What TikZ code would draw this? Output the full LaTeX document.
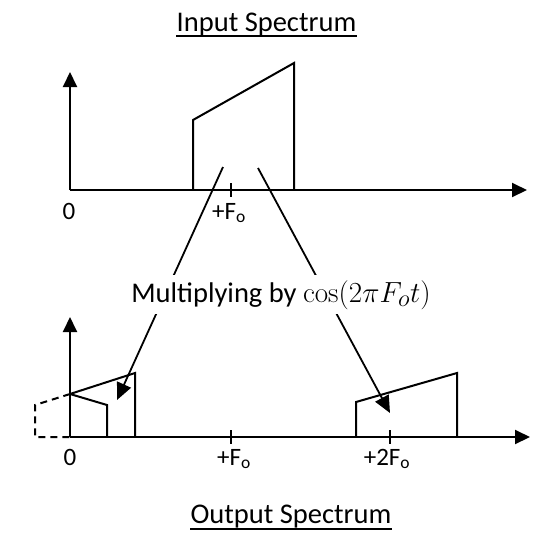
\documentclass[tikz,border=0pt]{standalone}
\usepackage[no-math]{fontspec}
\setmainfont{Carlito}
\usetikzlibrary{arrows.meta}
\begin{document}
\begin{tikzpicture}[x=1pt,y=-1pt,
  axis/.style={line width=2pt,-{Triangle[length=15pt,width=14pt]}},
  spec/.style={line width=2pt},
  dashspec/.style={line width=2pt,dash pattern=on 7pt off 5pt},
  pointer/.style={line width=1.8pt,-{Triangle[length=17pt,width=15pt]}},
  lbl/.style={font=\fontsize{25}{30}\selectfont, inner sep=0pt},
  ttl/.style={font=\fontsize{28.5}{34}\selectfont, inner sep=0pt, anchor=base},
  uline/.style={line width=1.8pt}]
\useasboundingbox (0,0) rectangle (557,547);
% titles
\node[ttl] (t1) at (266.5,31) {Input Spectrum};
\draw[uline] ([yshift=-5pt]t1.base west) -- ([yshift=-5pt]t1.base east);
\node[ttl] (t2) at (291,523) {Output Spectrum};
\draw[uline] ([yshift=-6pt]t2.base west) -- ([yshift=-6pt]t2.base east);
% top graph
\coordinate (o1) at (70,190);
\coordinate (y1) at (70,72);
\coordinate (x1) at (527,190);
\draw[axis] (o1) -- (y1);
\draw[axis] (o1) -- (x1);
\draw[spec] (231,183) -- (231,197);
\draw[spec] (193,190) -- (193,120) -- (294,63) -- (294,190);
\node[lbl] (l0a) at (69,211) {0};
\node[lbl] (lFa) at (229,213) {+F\textsubscript{o}};
% bottom graph
\coordinate (o2) at (70,437);
\coordinate (y2) at (70,317);
\coordinate (x2) at (530,437);
\draw[axis] (o2) -- (y2);
\draw[axis] (o2) -- (x2);
\draw[dashspec] (70,394) -- (35,405) -- (35,437) -- (70,437);
\draw[spec] (70,394) -- (135,373) -- (135,437);
\draw[spec] (70,394) -- (107,405) -- (107,437);
\draw[spec] (356,437) -- (356,402) -- (457,373) -- (457,437);
\draw[spec] (231,430) -- (231,444);
\draw[spec] (390,430) -- (390,444);
\node[lbl] (l0b) at (70,457) {0};
\node[lbl] (lFb) at (234,459) {+F\textsubscript{o}};
\node[lbl] (l2F) at (387,459) {+2F\textsubscript{o}};
% pointers
\coordinate (p1s) at (223,167);
\coordinate (p1e) at (117,400);
\coordinate (p2s) at (258,168);
\coordinate (p2e) at (390,413);
\draw[pointer] (p1s) -- (p1e);
\draw[pointer] (p2s) -- (p2e);
\node[font=\fontsize{28.5}{34}\selectfont, fill=white, inner xsep=3pt, inner ysep=5pt, anchor=base] (mul) at (281,302) {Multiplying by {\fontsize{24.88}{30}\selectfont\scalebox{1.17}{$\cos(2\pi F_o t)$}}};
\end{tikzpicture}
\end{document}
